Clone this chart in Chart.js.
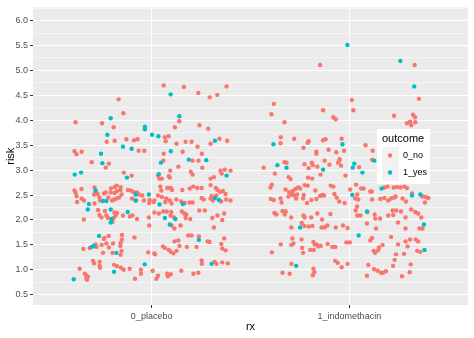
<!DOCTYPE html>
<html>
<head>
<meta charset="utf-8">
<script src="https://cdn.jsdelivr.net/npm/chart.js@4.4.1/dist/chart.umd.min.js"></script>
<style>
  html, body { margin: 0; padding: 0; background: #fff; }
  #wrap { width: 474px; height: 338px; }
</style>
</head>
<body>
<div id="wrap"><canvas id="chart" width="474" height="338"></canvas></div>
<script>
const categories = ['0_placebo', '1_indomethacin'];
const outcomes = ['0_no', '1_yes'];
const outcomeColors = ['#F8766D', '#00BFC4'];
const yTicks = [0.5, 1.0, 1.5, 2.0, 2.5, 3.0, 3.5, 4.0, 4.5, 5.0, 5.5, 6.0];

// jittered points: [rx position, risk]
const placeboNo = [
  [0.833,4.42],[0.857,4.14],[0.615,3.96],[0.749,3.94],[0.808,3.86],[0.773,3.57],[0.813,3.59],[0.872,3.62],[0.911,3.60],[0.929,3.62],
  [0.610,3.38],[0.620,3.32],[0.646,3.37],[0.934,3.39],[0.963,3.39],[0.697,3.16],[0.784,3.13],[0.768,3.05],[0.859,2.95],[0.899,2.89],
  [1.061,4.70],[1.163,4.67],[1.236,4.55],[1.294,4.46],[1.332,4.51],[1.379,4.68],[1.140,3.98],[1.118,3.86],[1.242,3.90],[1.286,3.83],
  [1.067,3.66],[1.086,3.68],[1.071,3.58],[1.126,3.53],[1.172,3.57],[1.202,3.57],[1.298,3.53],[1.343,3.63],[1.382,3.59],[1.232,3.47],
  [1.061,3.33],[1.157,3.37],[1.254,3.33],[1.059,3.19],[1.207,3.19],[1.237,3.19],[1.135,3.07],[1.256,3.05],[1.094,2.99],[1.198,2.97],
  [1.207,2.91],[1.348,2.99],[1.370,3.01],[1.399,2.99],[1.354,2.93],[1.032,2.89],[1.087,2.88],[1.039,2.83],[1.051,2.83],[1.092,2.85],
  [1.298,2.83],[1.315,2.86],
  [0.610,2.59],[0.615,2.55],[0.645,2.62],[0.620,2.48],[0.623,2.36],[0.646,2.43],[0.658,2.39],[0.711,2.65],[0.716,2.56],[0.709,2.51],
  [0.727,2.52],[0.759,2.53],[0.768,2.55],[0.794,2.63],[0.793,2.55],[0.813,2.66],[0.823,2.69],[0.843,2.66],[0.813,2.54],[0.825,2.58],
  [0.842,2.60],[0.848,2.51],[0.822,2.43],[0.835,2.45],[0.800,2.39],[0.810,2.41],[0.781,2.45],[0.711,2.33],[0.736,2.45],[0.739,2.39],
  [0.880,2.60],[0.895,2.59],[0.908,2.56],[0.926,2.55],[0.901,2.43],[0.921,2.39],[0.953,2.49],[0.961,2.39],[0.936,2.51],[0.990,2.40],
  [0.988,2.34],[0.729,2.20],[0.736,2.10],[0.746,2.05],[0.764,2.18],[0.771,2.09],[0.779,2.04],[0.812,2.15],[0.818,2.09],[0.825,2.14],
  [0.657,2.01],[0.808,2.04],[0.802,1.96],[0.855,2.09],[0.890,2.07],[0.903,2.09],[0.926,2.02],[0.986,2.05],[0.988,1.89],
  [0.761,1.64],[0.783,1.68],[0.758,1.62],[0.850,1.70],[0.850,1.61],[0.913,1.65],[0.771,1.53],[0.747,1.50],[0.805,1.53],[0.784,1.45],
  [0.842,1.48],[0.843,1.54],[0.687,1.44],[0.655,1.42],[0.721,1.46],[0.716,1.51],[0.754,1.34],[0.802,1.34],[0.848,1.38],[0.843,1.30],
  [0.983,1.35],[0.704,1.18],[0.709,1.13],[0.737,1.08],[0.739,1.04],[0.810,1.10],[0.825,1.07],[0.845,1.04],[0.859,1.00],[0.889,1.02],
  [0.946,1.00],[0.946,0.92],[0.916,0.82],[0.636,1.02],[0.662,0.92],[0.668,0.89],[0.678,0.86],[0.670,0.82],[0.673,0.80],[0.737,1.16],
  [1.044,2.67],[1.049,2.59],[1.079,2.64],[1.097,2.64],[1.103,2.60],[1.155,2.60],[1.193,2.63],[1.211,2.67],[1.231,2.64],[1.253,2.64],
  [1.298,2.70],[1.325,2.64],[1.333,2.60],[1.347,2.56],[1.360,2.58],[1.374,2.52],[1.032,2.49],[1.052,2.46],[1.074,2.43],[1.014,2.39],
  [1.010,2.36],[1.069,2.36],[1.091,2.39],[1.101,2.33],[1.125,2.41],[1.150,2.37],[1.167,2.34],[1.192,2.35],[1.207,2.35],[1.253,2.44],
  [1.263,2.41],[1.298,2.43],[1.310,2.39],[1.352,2.37],[1.377,2.41],[1.399,2.39],[1.303,2.48],[1.327,2.49],
  [1.014,2.15],[1.037,2.13],[1.059,2.17],[1.076,2.17],[1.099,2.16],[1.096,2.09],[1.113,2.05],[1.153,2.17],[1.165,2.13],[1.175,2.11],
  [1.172,2.04],[1.195,2.02],[1.241,2.19],[1.269,2.19],[1.307,2.04],[1.333,2.09],[1.357,2.00],[1.367,2.13],[1.315,1.85],[1.101,1.89],
  [1.115,1.83],[1.146,1.89],
  [1.185,1.69],[1.202,1.69],[1.239,1.67],[1.116,1.57],[1.135,1.59],[1.367,1.63],[1.352,1.52],[1.357,1.43],[1.374,1.39],[1.283,1.57],
  [1.293,1.56],[1.141,1.48],[1.178,1.46],[1.227,1.46],[1.057,1.47],[1.067,1.44],[1.087,1.40],[1.097,1.36],[1.110,1.33],[1.126,1.38],
  [1.014,1.33],[1.017,1.31],[1.253,1.19],[1.254,1.12],[1.318,1.16],[1.328,1.12],[1.357,1.15],[1.385,1.13],[1.005,0.98],[1.150,0.98],
  [1.211,0.92],[1.236,0.94],[1.079,0.92],[1.097,0.91],[1.082,0.87],[1.032,0.88],[1.024,0.82]
];
const placeboYes = [
  [0.793,4.04],[0.966,3.87],[0.966,3.82],[0.776,3.71],[1.002,3.71],[0.855,3.47],[0.899,3.43],[0.744,3.33],[0.751,3.14],[0.611,2.91],
  [0.643,2.95],[0.875,2.85],[1.096,4.52],[1.140,4.08],[1.034,3.68],[1.320,3.59],[1.097,3.38],[1.047,3.15],[1.188,3.21],[1.276,3.20],
  [1.037,2.92],[1.379,2.89],[0.717,2.59],[0.753,2.38],[0.771,2.38],[0.683,2.32],[0.677,2.21],[0.793,2.21],[0.919,2.51],[0.919,2.39],
  [0.986,2.51],[0.879,2.16],[0.798,2.02],[0.793,1.95],[0.734,1.68],[0.707,1.48],[0.697,1.46],[0.822,1.34],[0.965,1.11],[0.810,0.96],
  [0.606,0.81],[1.040,2.31],[1.158,2.32],[1.320,2.44],[1.340,2.40],[1.067,2.04],[1.120,2.02],[1.092,1.91],[1.239,1.60],[1.303,1.12]
];
const indoNo = [
  [1.852,5.11],[1.618,4.33],[1.606,4.12],[1.672,3.96],[1.867,4.20],[1.919,4.06],[1.931,4.02],[2.012,4.41],[2.020,4.20],[1.653,3.66],
  [1.652,3.54],[1.721,3.63],[1.794,3.58],[1.789,3.55],[1.867,3.60],[1.880,3.62],[1.961,3.63],[1.768,3.45],[1.833,3.37],[1.833,3.33],
  [1.895,3.41],[1.934,3.36],[1.973,3.39],[1.672,3.16],[1.682,3.15],[1.773,3.12],[1.810,3.15],[1.815,3.10],[1.838,3.07],[1.875,3.19],
  [1.899,3.11],[1.949,3.19],[1.943,3.15],[1.958,3.09],[1.951,3.22],[1.794,3.04],[1.566,3.05],
  [2.330,5.11],[2.352,4.43],[2.226,4.09],[2.322,4.11],[2.332,4.06],[2.291,3.94],[2.307,3.97],[2.313,3.90],[2.333,3.96],[2.082,3.50],
  [2.118,3.39],[2.115,3.21],[2.049,3.06],
  [1.623,2.93],[1.693,2.86],[1.703,2.82],[1.791,2.85],[1.812,2.83],[1.854,2.91],[1.980,2.89],[1.608,2.71],[1.601,2.65],[1.677,2.61],
  [1.695,2.56],[1.709,2.51],[1.727,2.62],[1.741,2.65],[1.751,2.63],[1.774,2.70],[1.789,2.69],[1.714,2.58],[1.721,2.49],[1.828,2.59],
  [1.906,2.69],[1.919,2.67],[2.004,2.61],[1.603,2.42],[1.618,2.40],[1.652,2.43],[1.657,2.35],[1.692,2.47],[1.731,2.43],[1.736,2.51],
  [1.766,2.43],[1.769,2.50],[1.786,2.34],[1.808,2.40],[1.833,2.42],[1.852,2.48],[1.864,2.50],[1.872,2.49],[1.924,2.52],[1.936,2.45],
  [1.949,2.37],[1.976,2.34],[1.621,2.14],[1.631,2.11],[1.662,2.18],[1.673,2.11],[1.678,2.17],[1.706,2.05],[1.768,2.09],[1.774,2.05],
  [1.759,1.94],[1.807,2.05],[1.838,2.13],[1.862,2.01],[1.904,2.12],[1.707,1.85],[1.773,1.88],[1.794,1.87],[1.813,1.88],[1.859,1.85],
  [1.875,1.85],[1.889,1.89],[1.931,1.85],[1.968,1.89],[1.991,1.84],[1.712,1.63],[1.717,1.53],[1.707,1.50],[1.758,1.61],[1.653,1.51],
  [1.818,1.56],[1.825,1.51],[1.835,1.51],[1.843,1.47],[1.855,1.48],[1.890,1.52],[1.914,1.46],[1.929,1.46],[1.985,1.55],[2.002,1.55],
  [1.761,1.44],[1.766,1.34],[1.802,1.40],[1.820,1.40],[1.608,1.35],[1.928,1.18],[1.941,1.14],[1.961,1.05],[1.991,1.12],[1.707,1.12],
  [1.662,0.94],[1.698,0.92],[1.818,1.02],[1.823,0.95],[1.815,0.89],
  [2.034,2.71],[2.059,2.63],[2.072,2.63],[2.106,2.57],[2.113,2.57],[2.177,2.65],[2.193,2.67],[2.224,2.65],[2.241,2.66],[2.258,2.65],
  [2.278,2.67],[2.291,2.64],[2.040,2.51],[2.030,2.43],[2.045,2.41],[2.115,2.41],[2.157,2.42],[2.177,2.44],[2.197,2.39],[2.211,2.43],
  [2.227,2.45],[2.234,2.47],[2.269,2.43],[2.286,2.37],[2.317,2.53],[2.369,2.47],[2.385,2.46],[2.399,2.44],[2.382,2.35],[2.039,2.27],
  [2.032,2.19],[2.040,2.09],[2.056,2.09],[2.091,2.16],[2.128,2.11],[2.131,2.03],[2.155,2.03],[2.197,2.09],[2.222,2.10],[2.219,2.19],
  [2.237,2.19],[2.261,2.17],[2.284,2.05],[2.313,2.21],[2.333,2.16],[2.348,2.13],[2.364,2.05],[2.089,1.93],[2.246,1.95],[2.355,1.83],
  [2.370,1.83],[2.135,1.83],[2.284,1.83],[2.115,1.64],[2.106,1.59],[2.211,1.66],[2.246,1.51],[2.284,1.57],[2.307,1.61],[2.335,1.61],
  [2.348,1.57],[2.123,1.38],[2.130,1.34],[2.145,1.39],[2.150,1.45],[2.168,1.50],[2.236,1.31],[2.276,1.32],[2.294,1.47],[2.343,1.38],
  [2.359,1.36],[2.229,1.20],[2.310,1.11],[2.221,1.08],[2.096,1.10],[2.125,1.01],[2.143,0.98],[2.160,0.94],[2.170,0.94],[2.185,0.97],
  [2.089,0.88],[2.266,0.87],[2.305,0.95]
];
const indoYes = [
  [1.990,5.51],[1.616,3.52],[1.965,3.52],[1.636,3.10],[1.682,3.05],[1.867,3.01],[2.025,3.13],[2.017,3.05],[2.258,5.19],[2.328,4.68],
  [2.126,3.19],[2.015,2.50],[1.751,1.85],[1.731,1.08],[2.066,2.95],[2.163,2.63],[2.317,2.49],[2.359,2.51],[2.089,2.17],[2.377,1.91],
  [2.047,1.69],[2.380,1.40]
];

const FONT = '"Liberation Sans", Arial, sans-serif';
Chart.defaults.font.family = FONT;

const toXY = arr => arr.map(p => ({ x: p[0], y: p[1] }));
const yGrid = yTicks.flatMap(v => [v, v + 0.25]);
const isMajor = v => yTicks.includes(v);

// grey panel like ggplot's theme_gray
const panelBg = {
  id: 'panelBg',
  beforeDraw(chart) {
    const { ctx, chartArea: a } = chart;
    ctx.save();
    ctx.fillStyle = '#EBEBEB';
    ctx.fillRect(a.left, a.top, a.right - a.left, a.bottom - a.top);
    ctx.restore();
  }
};

// legend box sitting inside the panel
const ggLegend = {
  id: 'ggLegend',
  afterDraw(chart) {
    const ctx = chart.ctx;
    const x = 377, y = 129;
    ctx.save();
    ctx.fillStyle = '#fff';
    ctx.fillRect(x, y, 53, 55);
    ctx.textBaseline = 'middle';
    ctx.textAlign = 'left';
    ctx.fillStyle = '#000';
    ctx.font = '11px ' + FONT;
    ctx.fillText('outcome', x + 5, y + 9.5);
    outcomes.forEach((label, i) => {
      const ky = y + 18 + i * 17;
      ctx.fillStyle = '#F2F2F2';
      ctx.fillRect(x + 5, ky, 17, 17);
      ctx.fillStyle = outcomeColors[i];
      ctx.beginPath();
      ctx.arc(x + 13, ky + 8.5, 2.2, 0, Math.PI * 2);
      ctx.fill();
      ctx.fillStyle = '#000';
      ctx.font = '9px ' + FONT;
      ctx.fillText(label, x + 26, ky + 8.5);
    });
    ctx.restore();
  }
};

new Chart(document.getElementById('chart'), {
  type: 'scatter',
  data: {
    datasets: [
      {
        label: outcomes[1],
        data: toXY(placeboYes.concat(indoYes)),
        backgroundColor: outcomeColors[1],
        borderWidth: 0,
        pointRadius: 2.2,
        order: 0
      },
      {
        label: outcomes[0],
        data: toXY(placeboNo.concat(indoNo)),
        backgroundColor: outcomeColors[0],
        borderWidth: 0,
        pointRadius: 2.2,
        order: 1
      }
    ]
  },
  options: {
    responsive: false,
    animation: false,
    devicePixelRatio: 1,
    events: [],
    layout: { padding: { top: 6, right: 6, bottom: 0, left: 0 } },
    plugins: { legend: { display: false }, tooltip: { enabled: false } },
    scales: {
      x: {
        type: 'linear',
        min: 0.4,
        max: 2.6,
        afterBuildTicks: s => { s.ticks = categories.map((c, i) => ({ value: i + 1 })); },
        afterFit: s => { s.height = 33; },
        ticks: {
          callback: v => categories[v - 1],
          color: '#4D4D4D',
          font: { size: 9 },
          padding: 3,
          maxRotation: 0,
          autoSkip: false
        },
        grid: { color: '#fff', lineWidth: 1, tickLength: 3, tickColor: '#333', tickWidth: 1 },
        border: { display: false },
        title: { display: true, text: 'rx', color: '#000', font: { size: 11 }, padding: { top: 0, bottom: 4 } }
      },
      y: {
        type: 'linear',
        min: 0.294,
        max: 6.265,
        afterBuildTicks: s => { s.ticks = yGrid.map(v => ({ value: v })); },
        afterFit: s => { s.width = 33; },
        ticks: {
          callback: v => isMajor(v) ? v.toFixed(1) : '',
          color: '#4D4D4D',
          font: { size: 9 },
          padding: 2,
          autoSkip: false
        },
        grid: {
          color: '#fff',
          lineWidth: c => isMajor(c.tick.value) ? 1 : 0.5,
          tickLength: 3,
          tickColor: c => isMajor(c.tick.value) ? '#333' : 'rgba(0,0,0,0)',
          tickWidth: 1
        },
        border: { display: false },
        title: { display: true, text: 'risk', color: '#000', font: { size: 11 }, padding: { top: 4, bottom: 0 } }
      }
    }
  },
  plugins: [panelBg, ggLegend]
});
</script>
</body>
</html>
